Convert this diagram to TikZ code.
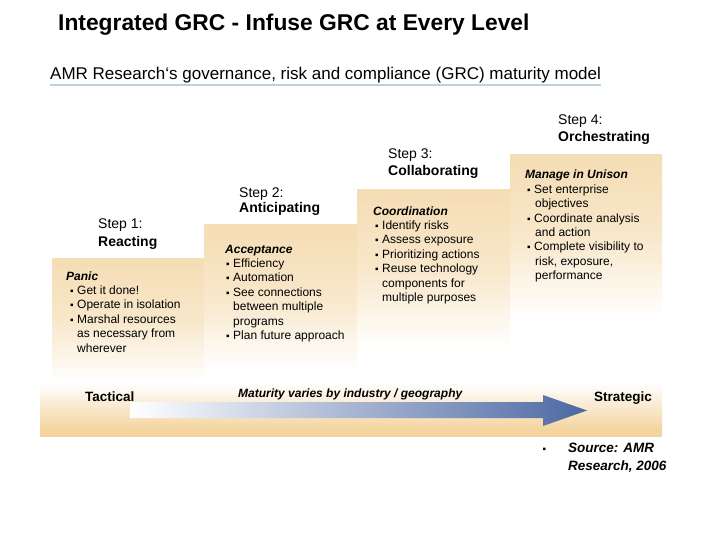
\documentclass[tikz,border=0pt]{standalone}
\usepackage{fontspec}
\setmainfont{Liberation Sans}
\definecolor{steptan}{RGB}{245,221,180}
\definecolor{bandtan}{RGB}{243,212,158}
\definecolor{arrowblue}{RGB}{76,104,163}
\definecolor{ruleteal}{RGB}{185,212,218}
\newcommand\blt{\llap{{\fontsize{10}{10}\selectfont ▪}\hspace{3.5pt}}}
\begin{document}
\begin{tikzpicture}[x=1pt,y=-1pt,
  txt/.style={anchor=base west, inner sep=0pt},
  ttl/.style={txt, font=\bfseries\fontsize{22.8}{27}\selectfont},
  subttl/.style={txt, font=\fontsize{17}{20}\selectfont},
  stepa/.style={txt, font=\fontsize{14}{17}\selectfont},
  stepb/.style={txt, font=\bfseries\fontsize{14}{17}\selectfont},
  lhead/.style={txt, font=\bfseries\itshape\fontsize{12}{14}\selectfont},
  litem/.style={txt, font=\fontsize{12}{14}\selectfont},
  axislbl/.style={txt, font=\bfseries\fontsize{13.5}{16}\selectfont},
  note/.style={txt, font=\bfseries\itshape\fontsize{12}{14}\selectfont},
  src/.style={txt, font=\bfseries\itshape\fontsize{13.5}{16}\selectfont},
  stepbox/.style={top color=steptan, bottom color=white, middle color=steptan!70!white}
]
\useasboundingbox (0,0) rectangle (720,540);
\fill[white] (0,0) rectangle (720,540);

% step boxes
\shade[stepbox] (52,258) rectangle (204,382);
\shade[stepbox] (204,225) rectangle (357,370);
\shade[stepbox] (357,190) rectangle (510,348);
\shade[stepbox] (510,155) rectangle (662,318);

% bottom band
\shade[top color=white, bottom color=bandtan] (40,383) rectangle (662,430);
\fill[bandtan] (40,430) rectangle (662,437);

% arrow
\coordinate (atail) at (130,410);
\coordinate (atip) at (587,410.5);
\shade[left color=white, right color=arrowblue]
  (130,402) -- (543,402) -- (543,395) -- (atip) -- (543,426) -- (543,418) -- (130,418) -- cycle;

% titles
\node[ttl] (title) at (58,31) {Integrated GRC - Infuse GRC at Every Level};
\node[subttl] (sub) at (50,80) {AMR Research‘s governance, risk and compliance (GRC) maturity model};
\draw[ruleteal, line width=2pt] ([yshift=-5pt]sub.base west) -- ([yshift=-5pt]sub.base east);

% step headings
\node[stepa] (s1t) at (98,229) {Step 1:};
\node[stepb] (s1n) at (98,246) {Reacting};
\node[stepa] (s2t) at (239,197) {Step 2:};
\node[stepb] (s2n) at (239,213) {Anticipating};
\node[stepa] (s3t) at (388,159) {Step 3:};
\node[stepb] (s3n) at (388,176) {Collaborating};
\node[stepa] (s4t) at (558,125) {Step 4:};
\node[stepb] (s4n) at (558,142) {Orchestrating};

% step 1 list
\node[lhead] (p1h) at (66,280) {Panic};
\node[litem] (p1a) at (77,294.4) {\blt Get it done!};
\node[litem] (p1b) at (77,308.8) {\blt Operate in isolation};
\node[litem] (p1c) at (77,323.2) {\blt Marshal resources};
\node[litem] (p1d) at (77,337.6) {as necessary from};
\node[litem] (p1e) at (77,352) {wherever};

% step 2 list
\node[lhead] (p2h) at (225,253) {Acceptance};
\node[litem] (p2a) at (233,267.4) {\blt Efficiency};
\node[litem] (p2b) at (233,281.8) {\blt Automation};
\node[litem] (p2c) at (233,296.2) {\blt See connections};
\node[litem] (p2d) at (233,310.6) {between multiple};
\node[litem] (p2e) at (233,325) {programs};
\node[litem] (p2f) at (233,339.4) {\blt Plan future approach};

% step 3 list
\node[lhead] (p3h) at (373,215) {Coordination};
\node[litem] (p3a) at (382,229.4) {\blt Identify risks};
\node[litem] (p3b) at (382,243.8) {\blt Assess exposure};
\node[litem] (p3c) at (382,258.2) {\blt Prioritizing actions};
\node[litem] (p3d) at (382,272.6) {\blt Reuse technology};
\node[litem] (p3e) at (382,287) {components for};
\node[litem] (p3f) at (382,301.4) {multiple purposes};

% step 4 list
\node[lhead] (p4h) at (525,179) {Manage in Unison};
\node[litem] (p4a) at (534,193.4) {\blt Set enterprise};
\node[litem] (p4b) at (535,207.8) {objectives};
\node[litem] (p4c) at (534,222.2) {\blt Coordinate analysis};
\node[litem] (p4d) at (535,236.6) {and action};
\node[litem] (p4e) at (534,251) {\blt Complete visibility to};
\node[litem] (p4f) at (535,265.4) {risk, exposure,};
\node[litem] (p4g) at (535,279.8) {performance};

% axis labels
\node[axislbl] (tact) at (85,401) {Tactical};
\node[axislbl] (strat) at (594,401) {Strategic};
\node[note] (mat) at (238,397) {Maturity varies by industry / geography};

% source
\node[src] (src1) at (568,452) {\llap{{\fontsize{10}{10}\selectfont ▪}\hspace{22pt}}Source: AMR};
\node[src] (src2) at (568,470) {Research, 2006};
\end{tikzpicture}
\end{document}
